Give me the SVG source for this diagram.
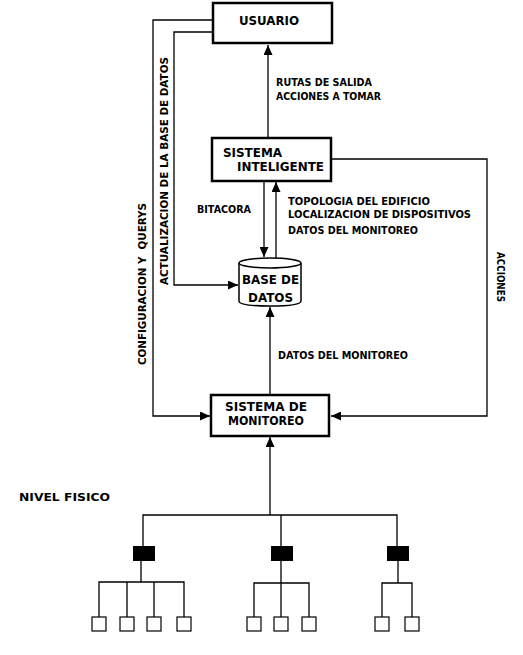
<svg xmlns="http://www.w3.org/2000/svg" width="523" height="655" viewBox="0 0 523 655">
<defs>
<marker id="ah" markerUnits="userSpaceOnUse" markerWidth="10" markerHeight="9" refX="10" refY="4.5" orient="auto">
<path d="M0,0 L10,4.5 L0,9 z" fill="#000"/>
</marker>
<style>
text{font-family:"DejaVu Sans","Liberation Sans",sans-serif;font-weight:bold;font-size:10.5px;fill:#000;white-space:pre}
.big{font-size:11.5px}
.box{fill:#fff;stroke:#000;stroke-width:2.5}
.ln{fill:none;stroke:#000;stroke-width:1.3}
.arr{fill:none;stroke:#000;stroke-width:1.3;marker-end:url(#ah)}
.blk{fill:#000}
.sq{fill:#fff;stroke:#000;stroke-width:1.2}
</style>
</defs>
<rect width="523" height="655" fill="#fff"/>

<g id="connectors">
<path class="arr" d="M268,138 L268,45"/>
<path class="arr" d="M331,159 L487,159 L487,416 L331,416"/>
<path class="arr" d="M264,181 L264,257"/>
<path class="arr" d="M276,258 L276,182"/>
<path class="arr" d="M213,32 L174,32 L174,285 L238,285"/>
<path class="arr" d="M213,20 L153,20 L153,416 L210,416"/>
<path class="arr" d="M270,395 L270,307"/>
<path class="arr" d="M270,515 L270,437"/>
<path class="ln" d="M143,546 L143,515 L397,515 L397,546 M281,515 L281,546"/>
<path class="ln" d="M141,561 L141,582 M99,617 L99,582 L184,582 L184,617 M127,582 L127,617 M154,582 L154,617"/>
<path class="ln" d="M281,561 L281,617 M254,617 L254,583 L309,583 L309,617"/>
<path class="ln" d="M398,561 L398,583 M382,617 L382,583 L412,583 L412,617"/>
</g>

<g id="usuario">
<rect class="box" x="213" y="3" width="119" height="40"/>
<text class="big" x="239" y="25" textLength="60" lengthAdjust="spacingAndGlyphs">USUARIO</text>
</g>

<g id="sistema-inteligente">
<rect class="box" x="212" y="138" width="119" height="43"/>
<text class="big" x="223" y="157" textLength="59" lengthAdjust="spacingAndGlyphs">SISTEMA</text>
<text class="big" x="237" y="171" textLength="87" lengthAdjust="spacingAndGlyphs">INTELIGENTE</text>
</g>

<g id="base-de-datos">
<path fill="#fff" stroke="#000" stroke-width="1.5" d="M239,263 L239,301 Q239,306 270,306 Q301,306 301,301 L301,263"/>
<ellipse cx="270" cy="263" rx="31" ry="5" fill="#fff" stroke="#000" stroke-width="1.5"/>
<text class="big" x="242" y="284" textLength="57" lengthAdjust="spacingAndGlyphs">BASE DE</text>
<text class="big" x="248" y="302" textLength="45" lengthAdjust="spacingAndGlyphs">DATOS</text>
</g>

<g id="sistema-monitoreo">
<rect class="box" x="211" y="395" width="118" height="41"/>
<text class="big" x="225" y="411" textLength="82" lengthAdjust="spacingAndGlyphs">SISTEMA DE</text>
<text class="big" x="228" y="425" textLength="76" lengthAdjust="spacingAndGlyphs">MONITOREO</text>
</g>

<g id="labels">
<text x="276" y="86" textLength="96" lengthAdjust="spacingAndGlyphs">RUTAS DE SALIDA</text>
<text x="276" y="100" textLength="105" lengthAdjust="spacingAndGlyphs">ACCIONES A TOMAR</text>
<text x="197" y="213" textLength="54" lengthAdjust="spacingAndGlyphs">BITACORA</text>
<text x="288" y="205" textLength="142" lengthAdjust="spacingAndGlyphs">TOPOLOGIA DEL EDIFICIO</text>
<text x="288" y="218" textLength="183" lengthAdjust="spacingAndGlyphs">LOCALIZACION DE DISPOSITIVOS</text>
<text x="288" y="234" textLength="130" lengthAdjust="spacingAndGlyphs">DATOS DEL MONITOREO</text>
<text x="278" y="359" textLength="130" lengthAdjust="spacingAndGlyphs">DATOS DEL MONITOREO</text>
<text x="19" y="501" textLength="91" lengthAdjust="spacingAndGlyphs">NIVEL FISICO</text>
<text transform="translate(168,285) rotate(-90)" x="0" y="0" textLength="228" lengthAdjust="spacingAndGlyphs">ACTUALIZACION DE LA BASE DE DATOS</text>
<text transform="translate(146,365) rotate(-90)" x="0" y="0" textLength="162" lengthAdjust="spacingAndGlyphs">CONFIGURACION Y  QUERYS</text>
<text transform="translate(497,252) rotate(90)" x="0" y="0" textLength="50" lengthAdjust="spacingAndGlyphs">ACCIONES</text>
</g>

<g id="concentradores">
<rect class="blk" x="133" y="546" width="22" height="15"/>
<rect class="blk" x="271" y="546" width="22" height="15"/>
<rect class="blk" x="387" y="546" width="22" height="15"/>
</g>

<g id="dispositivos">
<rect class="sq" x="92" y="617" width="14" height="14"/>
<rect class="sq" x="120" y="617" width="14" height="14"/>
<rect class="sq" x="147" y="617" width="14" height="14"/>
<rect class="sq" x="177" y="617" width="14" height="14"/>
<rect class="sq" x="247" y="617" width="14" height="14"/>
<rect class="sq" x="274" y="617" width="14" height="14"/>
<rect class="sq" x="302" y="617" width="14" height="14"/>
<rect class="sq" x="375" y="617" width="14" height="14"/>
<rect class="sq" x="405" y="617" width="14" height="14"/>
</g>
</svg>
